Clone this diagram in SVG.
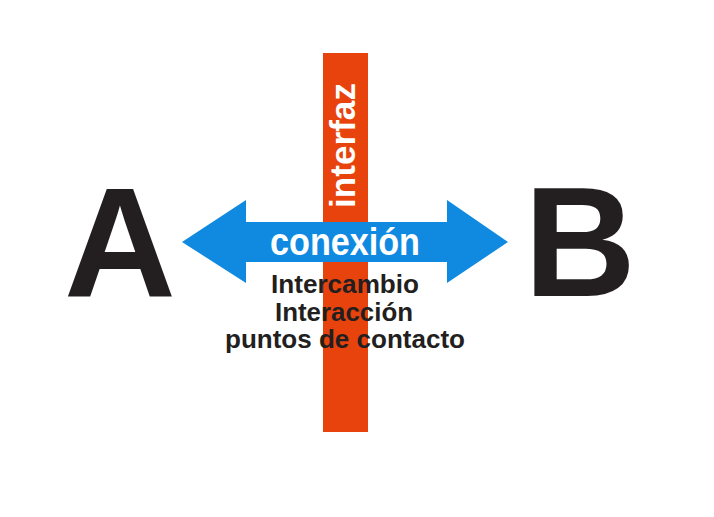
<svg xmlns="http://www.w3.org/2000/svg" width="714" height="517" viewBox="0 0 714 517">
<style>
.t{font-family:"Liberation Sans",Arial,sans-serif;font-weight:bold}
.big{font-size:155px;fill:#231f20}
.sub{font-size:25px;fill:#231f20;text-anchor:middle}
.w{fill:#ffffff}
</style>
<rect width="714" height="517" fill="#ffffff"/>
<g id="interfaz">
<rect x="323" y="53" width="45" height="379" fill="#e8430c"/>
<text class="t w" transform="translate(355,208) rotate(-90)" font-size="35" textLength="125" lengthAdjust="spacingAndGlyphs">interfaz</text>
</g>
<g id="connectors">
<g id="conexion">
<polygon points="182,242 246,200 246,222 447,222 447,200 508,242 447,283 447,262 246,262 246,283" fill="#108ae0"/>
<text class="t w" x="270" y="255" font-size="38" textLength="150" lengthAdjust="spacingAndGlyphs">conexión</text>
</g>
</g>
<g id="A">
<text class="t big" x="120" y="296" text-anchor="middle">A</text>
</g>
<g id="B">
<text class="t big" x="580" y="296" text-anchor="middle">B</text>
</g>
<g id="labels">
<text class="t sub" x="345" y="293" textLength="148" lengthAdjust="spacingAndGlyphs">Intercambio</text>
<text class="t sub" x="344" y="321" textLength="138" lengthAdjust="spacingAndGlyphs">Interacción</text>
<text class="t sub" x="345" y="348" textLength="240" lengthAdjust="spacingAndGlyphs">puntos de contacto</text>
</g>
</svg>
